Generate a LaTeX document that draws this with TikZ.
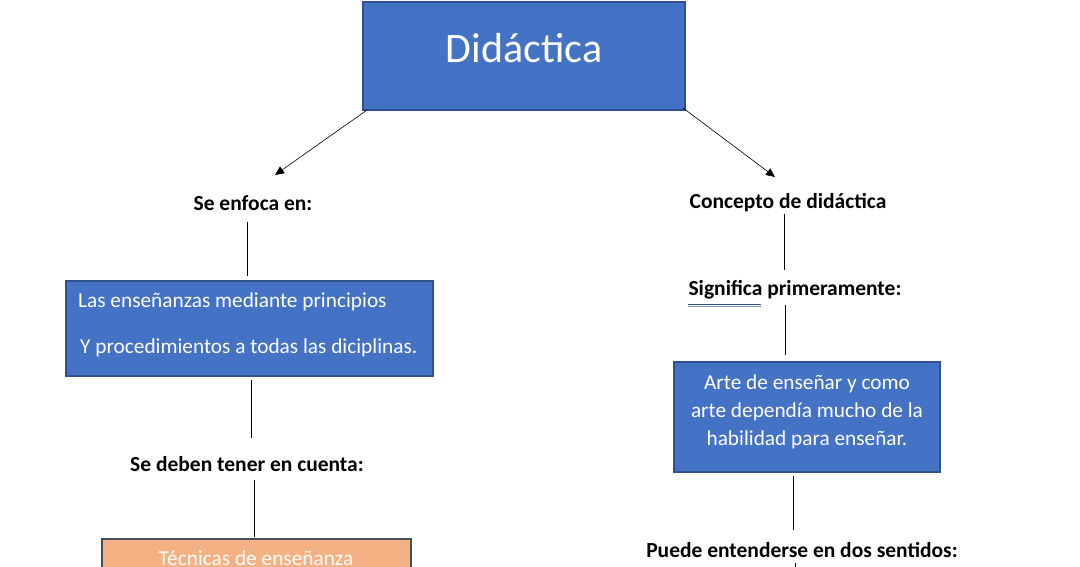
\documentclass[tikz,border=0pt]{standalone}
\usepackage{fontspec}
\setmainfont{Carlito}
\usetikzlibrary{arrows.meta}
\definecolor{bfill}{HTML}{4472C4}
\definecolor{bline}{HTML}{2F528F}
\definecolor{ofill}{HTML}{F4B183}
\definecolor{oline}{HTML}{42505F}
\begin{document}
\begin{tikzpicture}[x=1pt,y=-1pt,
  bbox/.style={draw=bline,line width=1.2pt,fill=bfill,text=white,inner sep=0pt},
  lab/.style={font=\fontsize{21.5}{25}\selectfont\bfseries,inner sep=0pt},
  btxt/.style={text=white,font=\fontsize{21.3}{25}\selectfont,inner sep=0pt},
  conn/.style={draw=black,line width=0.6pt},
  arr/.style={conn,-{Triangle[length=9pt,width=8pt]}}]
\useasboundingbox (0,0) rectangle (1080,567);
\fill[white] (0,0) rectangle (1080,567);
% title
\node[bbox,minimum width=322pt,minimum height=108pt] (title) at (524,56) {};
\node[text=white,font=\fontsize{42}{46}\selectfont] (tt) at (524,48) {Didáctica};
\coordinate (tl) at (367,110);
\coordinate (tr) at (683,108);
% left branch
\node[lab] (l1) at (253,203) {Se enfoca en:};
\draw[arr] (tl) -- (275,175) coordinate (la);
\node[bbox,minimum width=367pt,minimum height=95pt] (lbox) at (249.5,328.5) {};
\node[btxt,anchor=west] (lt1) at (78,302) {Las enseñanzas mediante principios};
\node[btxt,anchor=west] (lt2) at (80,348) {Y procedimientos a todas las diciplinas.};
\coordinate (a1) at (247,222); \coordinate (a2) at (247,276);
\draw[conn] (a1) -- (a2);
\coordinate (b1) at (251,380); \coordinate (b2) at (251,438);
\draw[conn] (b1) -- (b2);
\node[lab] (l2) at (247,464) {Se deben tener en cuenta:};
\coordinate (c1) at (254,480); \coordinate (c2) at (254,537);
\draw[conn] (c1) -- (c2);
\fill[ofill,draw=oline,line width=1.2pt] (102,539) rectangle (411,575);
\node[btxt] (ot) at (256,558) {Técnicas de enseñanza};
% right branch
\node[lab] (r1) at (788,203) {Concepto de didáctica};
\draw[arr] (tr) -- (775,177) coordinate (ra);
\coordinate (d1) at (784,214); \coordinate (d2) at (784,270);
\draw[conn] (d1) -- (d2);
\node[lab] (r2) at (795,290) {Significa primeramente:};
\draw[bline,line width=0.7pt] (r2.south west) ++(0,5) -- ++(73,0);
\draw[bline!60,line width=0.5pt] (r2.south west) ++(0,7) -- ++(73,0);
\coordinate (e1) at (785,305); \coordinate (e2) at (785,355);
\draw[conn] (e1) -- (e2);
\node[bbox,minimum width=266pt,minimum height=110pt] (rbox) at (807,417) {};
\node[btxt,align=center,font=\fontsize{21.3}{28}\selectfont] (rt) at (807,412) {Arte de enseñar y como\\arte dependía mucho de la\\habilidad para enseñar.};
\coordinate (f1) at (793,476); \coordinate (f2) at (793,530);
\draw[conn] (f1) -- (f2);
\node[lab] (r3) at (802,550) {Puede entenderse en dos sentidos:};
\coordinate (g1) at (795,563); \coordinate (g2) at (795,570);
\draw[conn] (g1) -- (g2);
\end{tikzpicture}
\end{document}
